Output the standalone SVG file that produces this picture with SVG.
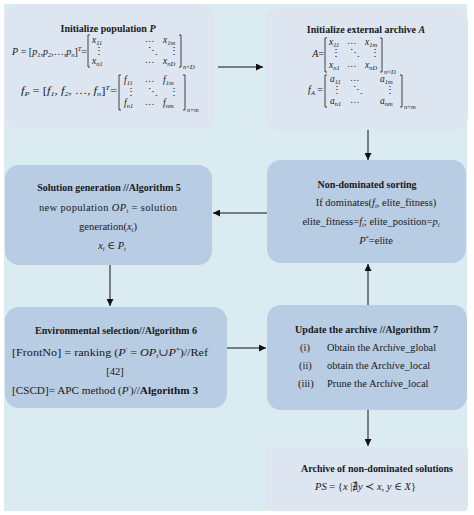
<svg xmlns="http://www.w3.org/2000/svg" width="474" height="515" viewBox="0 0 474 515">
<defs>
<marker id="ah" viewBox="0 0 10 10" refX="10" refY="5" markerWidth="7" markerHeight="7" orient="auto" markerUnits="userSpaceOnUse">
<path d="M0,0 L10,5 L0,10 z" fill="#111"/>
</marker>
<style>
text{font-family:"Liberation Serif","DejaVu Serif",serif;fill:#1a1a1a;font-size:10.5px}
.t{font-weight:bold;font-size:10px}
.m{font-style:italic;font-size:10px}
.x{font-size:9.5px}
.c{text-anchor:middle}
.e{text-anchor:end}
.s{font-size:6.5px}
.light{fill:#dce5f0}
.mid{fill:#b8cce3}
.br{fill:none;stroke:#1a1a1a;stroke-width:0.8}
.cn{stroke:#111;stroke-width:1;fill:none;marker-end:url(#ah)}
</style>
</defs>
<rect x="0" y="0" width="474" height="515" fill="#ffffff"/>
<rect x="4" y="4" width="463" height="507" fill="#daebf2"/>

<g id="init-population">
<rect class="light" x="5" y="5" width="210" height="124" rx="14"/>
<text class="t c" x="108" y="32">Initialize population <tspan font-style="italic">P</tspan></text>
<text class="m e" x="87" y="55" font-size="9">P<tspan font-style="normal"> = [</tspan>p<tspan class="s" dy="2">1</tspan><tspan dy="-2">,p</tspan><tspan class="s" dy="2">2</tspan><tspan dy="-2" font-style="normal">,…,</tspan>p<tspan class="s" dy="2">n</tspan><tspan dy="-2" font-style="normal">]</tspan><tspan class="s" dy="-4">T</tspan><tspan dy="4" font-style="normal">=</tspan></text>
<path class="br" d="M90,35 H88 V67 H90 M179,35 H181 V67 H179"/>
<text class="m x" x="92" y="43">x<tspan class="s" dy="2">11</tspan></text>
<text class="x" x="145" y="42">…</text>
<text class="m x" x="163" y="43">x<tspan class="s" dy="2">1m</tspan></text>
<text class="x" x="94" y="54">⋮</text>
<text class="x" x="148" y="54">⋱</text>
<text class="x" x="169" y="54">⋮</text>
<text class="m x" x="92" y="64">x<tspan class="s" dy="2">n1</tspan></text>
<text class="x" x="145" y="63">…</text>
<text class="m x" x="163" y="64">x<tspan class="s" dy="2">nD</tspan></text>
<text class="m s" x="183" y="69">n<tspan font-style="normal">×</tspan>D</text>
<text class="m" x="21" y="94" textLength="96" lengthAdjust="spacingAndGlyphs">f<tspan class="s" dy="2">P</tspan><tspan dy="-2" font-style="normal"> = [</tspan>f<tspan class="s" dy="2">1</tspan><tspan dy="-2">, f</tspan><tspan class="s" dy="2">2</tspan><tspan dy="-2" font-style="normal">, …, </tspan>f<tspan class="s" dy="2">n</tspan><tspan dy="-2" font-style="normal">]</tspan><tspan class="s" dy="-4">T</tspan><tspan dy="4" font-style="normal">=</tspan></text>
<path class="br" d="M121,75 H119 V110 H121 M183,75 H185 V110 H183"/>
<text class="m x" x="124" y="83">f<tspan class="s" dy="2">11</tspan></text>
<text class="x" x="145" y="82">…</text>
<text class="m x" x="163" y="83">f<tspan class="s" dy="2">1m</tspan></text>
<text class="x" x="126" y="95">⋮</text>
<text class="x" x="148" y="95">⋱</text>
<text class="x" x="169" y="95">⋮</text>
<text class="m x" x="124" y="106">f<tspan class="s" dy="2">n1</tspan></text>
<text class="x" x="145" y="105">…</text>
<text class="m x" x="163" y="106">f<tspan class="s" dy="2">nm</tspan></text>
<text class="m s" x="187" y="112">n<tspan font-style="normal">×</tspan>m</text>
</g>

<g id="init-archive">
<rect class="light" x="265" y="8" width="203" height="122" rx="14"/>
<text class="t c" x="366" y="33">Initialize external archive <tspan font-style="italic">A</tspan></text>
<text class="m e" x="324" y="57">A<tspan font-style="normal">=</tspan></text>
<path class="br" d="M327,38 H325 V72 H327 M380,38 H382 V72 H380"/>
<text class="m x" x="329" y="45">x<tspan class="s" dy="2">11</tspan></text>
<text class="x" x="347" y="44">…</text>
<text class="m x" x="365" y="45">x<tspan class="s" dy="2">1m</tspan></text>
<text class="x" x="331" y="56">⋮</text>
<text class="x" x="350" y="56">⋱</text>
<text class="x" x="370" y="56">⋮</text>
<text class="m x" x="329" y="68">x<tspan class="s" dy="2">n1</tspan></text>
<text class="x" x="347" y="67">…</text>
<text class="m x" x="365" y="68">x<tspan class="s" dy="2">nD</tspan></text>
<text class="m s" x="384" y="74">n<tspan font-style="normal">×</tspan>D</text>
<text class="m e" x="323" y="93">f<tspan class="s" dy="2">A</tspan><tspan dy="-2" font-style="normal"> =</tspan></text>
<path class="br" d="M327,75 H325 V107 H327 M400,75 H402 V107 H400"/>
<text class="m x" x="330" y="82">a<tspan class="s" dy="2">11</tspan></text>
<text class="x" x="350" y="81">…</text>
<text class="m x" x="380" y="82">a<tspan class="s" dy="2">1m</tspan></text>
<text class="x" x="332" y="93">⋮</text>
<text class="x" x="353" y="93">⋱</text>
<text class="x" x="385" y="93">⋮</text>
<text class="m x" x="330" y="104">a<tspan class="s" dy="2">n1</tspan></text>
<text class="x" x="350" y="103">…</text>
<text class="m x" x="380" y="104">a<tspan class="s" dy="2">nm</tspan></text>
<text class="m s" x="404" y="109">n<tspan font-style="normal">×</tspan>m</text>
</g>

<g id="solution-generation">
<rect class="mid" x="5" y="165" width="207" height="100" rx="14"/>
<text class="t c" x="109" y="191">Solution generation //Algorithm 5</text>
<text x="39" y="211" textLength="138" lengthAdjust="spacing">new population  <tspan font-style="italic">OP</tspan><tspan class="s m" dy="2">t</tspan><tspan dy="-2">  = solution</tspan></text>
<text class="c" x="108" y="230" font-size="11.5">generation(<tspan font-style="italic">x</tspan><tspan class="s m" dy="2">i</tspan><tspan dy="-2">)</tspan></text>
<text class="c" x="112" y="249" font-size="11.5"><tspan font-style="italic">x</tspan><tspan class="s m" dy="2">i</tspan><tspan dy="-2"> ∈ </tspan><tspan font-style="italic">P</tspan><tspan class="s m" dy="2">t</tspan></text>
</g>

<g id="non-dominated-sorting">
<rect class="mid" x="267" y="160" width="199" height="103" rx="14"/>
<text class="t c" x="367" y="188">Non-dominated sorting</text>
<text class="c" x="376" y="206">If dominates(<tspan font-style="italic">f</tspan><tspan class="s m" dy="2">i</tspan><tspan dy="-2">, elite_fitness)</tspan></text>
<text class="c" x="371" y="225">elite_fitness=<tspan font-style="italic">f</tspan><tspan class="s m" dy="2">i</tspan><tspan dy="-2">; elite_position=</tspan><tspan font-style="italic">p</tspan><tspan class="s m" dy="2">i</tspan></text>
<text class="c" x="376" y="244"><tspan font-style="italic">P</tspan><tspan class="s" dy="-4">*</tspan><tspan dy="4">=elite</tspan></text>
</g>

<g id="environmental-selection">
<rect class="mid" x="5" y="307" width="222" height="101" rx="14"/>
<text class="t c" x="116" y="334" textLength="162" lengthAdjust="spacingAndGlyphs">Environmental selection//Algorithm 6</text>
<text x="12" y="356" font-size="12" textLength="196" lengthAdjust="spacingAndGlyphs">[FrontNo] = ranking (<tspan font-style="italic">P</tspan><tspan class="s" dy="-4">'</tspan><tspan dy="4"> = </tspan><tspan font-style="italic">OP</tspan><tspan class="s m" dy="2">t</tspan><tspan dy="-2">∪</tspan><tspan font-style="italic">P</tspan><tspan class="s" dy="-4">*</tspan><tspan dy="4">)//Ref</tspan></text>
<text class="c" x="115" y="375" font-size="12">[42]</text>
<text x="12" y="394" font-size="12" textLength="186" lengthAdjust="spacingAndGlyphs">[CSCD]= APC method (<tspan font-style="italic">P</tspan><tspan class="s" dy="-4">'</tspan><tspan dy="4">)//</tspan><tspan font-weight="bold">Algorithm 3</tspan></text>
</g>

<g id="update-archive">
<rect class="mid" x="267" y="305" width="200" height="105" rx="14"/>
<text class="t" x="295" y="333" textLength="143" lengthAdjust="spacingAndGlyphs">Update the archive //Algorithm 7</text>
<text x="300" y="351">(i)</text>
<text x="327" y="351" textLength="109" lengthAdjust="spacingAndGlyphs">Obtain the Arch<tspan font-style="italic">i</tspan>ve_global</text>
<text x="299" y="369">(ii)</text>
<text x="327" y="369">obtain the Arch<tspan font-style="italic">i</tspan>ve_local</text>
<text x="298" y="387">(iii)</text>
<text x="327" y="387">Prune the Arch<tspan font-style="italic">i</tspan>ve_local</text>
</g>

<g id="archive-nondominated">
<rect class="light" x="265" y="447" width="203" height="63" rx="4"/>
<text class="t" x="301" y="472" textLength="152" lengthAdjust="spacingAndGlyphs">Archive of non-dominated solutions</text>
<text x="315" y="490" font-size="9.5"><tspan font-style="italic">PS</tspan> = {<tspan font-style="italic">x</tspan> |∄<tspan font-style="italic">y</tspan> ≺ <tspan font-style="italic">x</tspan>, <tspan font-style="italic">y</tspan> ∈ <tspan font-style="italic">X</tspan>}</text>
</g>

<g id="connectors">
<line class="cn" x1="218" y1="67" x2="263" y2="67"/>
<line class="cn" x1="368" y1="130" x2="368" y2="160"/>
<line class="cn" x1="267" y1="213" x2="213" y2="213"/>
<line class="cn" x1="110" y1="265" x2="110" y2="306"/>
<line class="cn" x1="227" y1="348" x2="266" y2="348"/>
<line class="cn" x1="368" y1="305" x2="368" y2="264"/>
<line class="cn" x1="368" y1="410" x2="368" y2="446"/>
</g>
</svg>
